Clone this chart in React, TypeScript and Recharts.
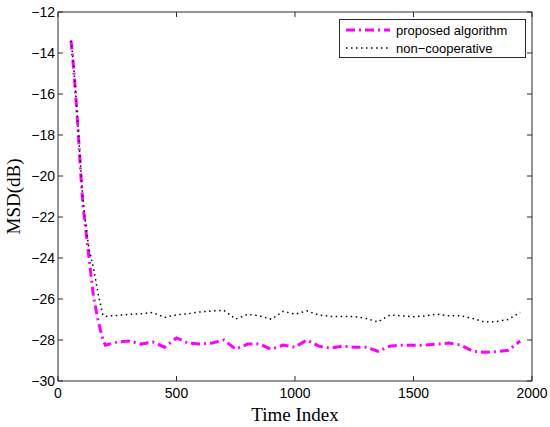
import { LineChart, Line, XAxis, YAxis, Legend } from 'recharts'

// time index of each sample
const timeIndex = [
  55, 65, 75, 85, 95, 105, 115, 130, 150, 170, 190, 200, 250, 300, 350, 400, 450, 500, 550, 600,
  650, 700, 750, 800, 850, 900, 950, 1000, 1050, 1100, 1150, 1200, 1250, 1300, 1350, 1400, 1450,
  1500, 1550, 1600, 1650, 1700, 1750, 1800, 1850, 1900, 1950,
]

// MSD (dB) of the proposed algorithm
const proposedMsd = [
  -13.4, -14.6, -16.1, -17.8, -19.7, -21.4, -22.4, -23.9, -25.9, -27.1, -28.0, -28.25, -28.1, -28.05,
  -28.2, -28.1, -28.35, -27.9, -28.15, -28.2, -28.15, -28.0, -28.45, -28.2, -28.2, -28.45, -28.25,
  -28.35, -28.0, -28.3, -28.4, -28.3, -28.35, -28.35, -28.55, -28.3, -28.25, -28.25, -28.25, -28.2,
  -28.15, -28.25, -28.55, -28.6, -28.57, -28.5, -28.05,
]

// MSD (dB) of the non-cooperative scheme
const nonCoopMsd = [
  -13.4, -14.5, -16.0, -17.7, -19.5, -21.1, -22.2, -23.5, -24.5, -25.8, -26.8, -26.85, -26.8, -26.75,
  -26.72, -26.66, -26.9, -26.77, -26.72, -26.63, -26.58, -26.55, -26.98, -26.75, -26.82, -26.99, -26.6,
  -26.74, -26.58, -26.78, -26.85, -26.85, -26.85, -26.95, -27.12, -26.78, -26.82, -26.87, -26.82,
  -26.74, -26.82, -26.82, -26.95, -27.12, -27.1, -27.0, -26.65,
]

const xTicks = [0, 500, 1000, 1500, 2000]
const yTicks = [-30, -28, -26, -24, -22, -20, -18, -16, -14, -12]

const rows = timeIndex.map((t, i) => ({ t, proposed: proposedMsd[i], nonCoop: nonCoopMsd[i] }))

const AXIS = '#2b2b2b'
const TICK_FONT = '"Liberation Sans", Arial, sans-serif'
const SERIF = '"Liberation Serif", "DejaVu Serif", serif'
const TL = 5

// matlab style minus sign
const fmt = (v: number) => String(v).replace('-', '\u2212')
const tickText = { fontSize: 14, fontFamily: TICK_FONT, fill: '#000' }

const legendStyles: Record<string, { dash: string; width: number }> = {
  proposed: { dash: '9 4 2 4', width: 3 },
  nonCoop: { dash: '1.5 3.5', width: 1.5 },
}

const LegendBox = ({ payload }: any) => {
  const items = [...(payload || [])].sort((a: any) => (a.dataKey === 'proposed' ? -1 : 1))
  return (
    <svg width={187} height={39} style={{ display: 'block' }}>
      <rect x={0.5} y={0.5} width={186} height={38} fill="#fff" stroke={AXIS} />
      {items.map((it: any, i: number) => {
        const st = legendStyles[it.dataKey]
        const cy = 11 + i * 18
        return (
          <g key={it.dataKey}>
            <line x1={7} x2={51} y1={cy} y2={cy} stroke={it.color} strokeWidth={st.width} strokeDasharray={st.dash} />
            <text x={57} y={cy} dy="0.355em" fontSize={13} fontFamily={TICK_FONT} fill="#000">
              {it.value}
            </text>
          </g>
        )
      })}
    </svg>
  )
}

export default function App() {
  return (
    <div style={{ position: 'absolute', left: 0, top: 0, width: 550, height: 427, background: '#fff' }}>
      <LineChart width={550} height={427} data={rows} margin={{ top: 12, right: 18, bottom: 0, left: 0 }}>
        <XAxis
          dataKey="t"
          type="number"
          domain={[0, 2000]}
          ticks={xTicks}
          height={46}
          tickSize={-TL}
          tickMargin={TL + 7}
          tick={tickText}
          tickFormatter={fmt}
          axisLine={{ stroke: AXIS }}
          tickLine={{ stroke: AXIS }}
          label={{ value: 'Time Index', position: 'insideBottom', offset: 6, fontFamily: SERIF, fontSize: 19, fill: '#000' }}
        />
        <XAxis
          xAxisId="top"
          orientation="top"
          mirror
          dataKey="t"
          type="number"
          domain={[0, 2000]}
          ticks={xTicks}
          height={1}
          tickSize={TL}
          tickFormatter={() => ''}
          axisLine={{ stroke: AXIS }}
          tickLine={{ stroke: AXIS }}
        />
        <YAxis
          type="number"
          domain={[-30, -12]}
          ticks={yTicks}
          width={58}
          tickSize={-TL}
          tickMargin={TL + 3}
          tick={tickText}
          tickFormatter={fmt}
          axisLine={{ stroke: AXIS }}
          tickLine={{ stroke: AXIS }}
          label={{ value: 'MSD(dB)', angle: -90, position: 'insideLeft', offset: 13, fontFamily: SERIF, fontSize: 19, fill: '#000', style: { textAnchor: 'middle' } }}
        />
        <YAxis
          yAxisId="right"
          orientation="right"
          mirror
          type="number"
          domain={[-30, -12]}
          ticks={yTicks}
          width={1}
          tickSize={TL}
          tickFormatter={() => ''}
          axisLine={{ stroke: AXIS }}
          tickLine={{ stroke: AXIS }}
        />
        <Legend
          layout="vertical"
          align="center"
          verticalAlign="middle"
          wrapperStyle={{ left: 339, top: 19, width: 187, height: 39 }}
          content={<LegendBox />}
        />
        <Line
          dataKey="proposed"
          name="proposed algorithm"
          type="linear"
          stroke="#ff00ff"
          strokeWidth={3}
          strokeDasharray="9 4 2 4"
          dot={false}
          isAnimationActive={false}
        />
        <Line
          yAxisId="right"
          dataKey="nonCoop"
          name={'non\u2212cooperative'}
          type="linear"
          stroke="#000"
          strokeWidth={1.5}
          strokeDasharray="1.5 3.5"
          dot={false}
          isAnimationActive={false}
        />
      </LineChart>
    </div>
  )
}
